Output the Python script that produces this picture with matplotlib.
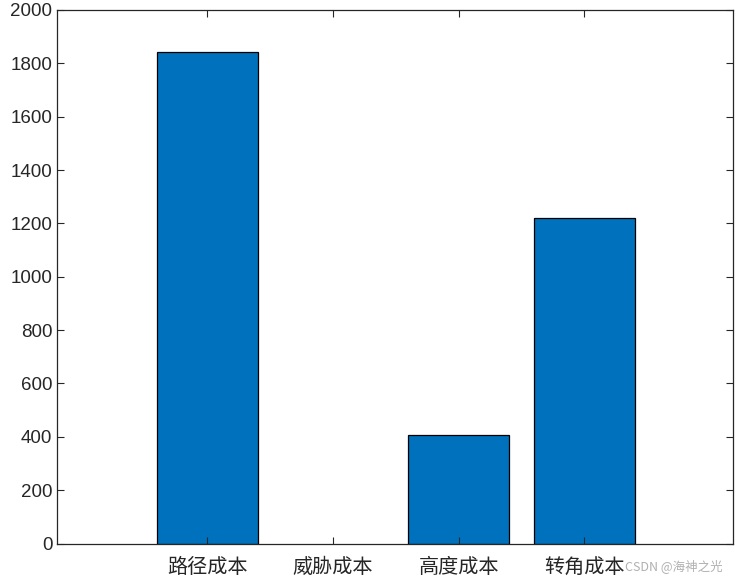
import matplotlib
matplotlib.use('Agg')
import matplotlib.pyplot as plt

# cost breakdown
labels = ['路径成本', '威胁成本', '高度成本', '转角成本']
costs = [1843, 0, 405, 1222]
yticks = [0, 200, 400, 600, 800, 1000, 1200, 1400, 1600, 1800, 2000]

plt.rcParams['font.family'] = ['Liberation Sans', 'Noto Sans CJK SC', 'DejaVu Sans']

fig = plt.figure(figsize=(7.36, 5.79), dpi=100)
ax = fig.add_axes([57.3 / 736, 1 - 543.5 / 579, 676 / 736, 533.5 / 579])

pos = list(range(1, len(costs) + 1))
# zero-height bars show no outline in the reference
edges = ['black' if c > 0 else 'none' for c in costs]
ax.bar(pos, costs, width=0.8, color='#0072BD', edgecolor=edges, linewidth=0.9)

ax.set_xlim(-0.194, 5.186)
ax.set_ylim(0, 2000)
ax.set_xticks(pos)
ax.set_xticklabels(labels, family=['Noto Sans CJK SC'], fontsize=14.5, color='#262626')
ax.set_yticks(yticks)
ax.set_yticklabels([str(v) for v in yticks], fontsize=13.5, color='#262626')

ax.tick_params(direction='in', length=5, width=0.8, top=True, right=True, color='#262626')
ax.tick_params(axis='x', pad=10)
for s in ax.spines.values():
    s.set_linewidth(0.9)
    s.set_color('#262626')

fig.text(625 / 736, 1 - 566 / 579, 'CSDN @海神之光', fontsize=9, color='#b0b0b0',
         family=['Noto Sans CJK SC', 'DejaVu Sans'], va='center', ha='left')

fig.savefig('out.png', dpi=100)
